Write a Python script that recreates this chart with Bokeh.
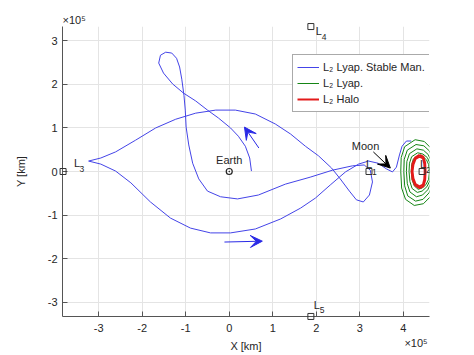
from bokeh.plotting import figure
from bokeh.models import (Range1d, FixedTicker, Label, Arrow, VeeHead, Legend,
                          LegendItem, ColumnDataSource, LinearAxis)
from bokeh.embed import file_html
from bokeh.resources import INLINE
from bokeh.core.properties import value

FONT = "Liberation Sans"

# ---------------- data (units of 1e5 km) ----------------
x_ticks = [-3, -2, -1, 0, 1, 2, 3, 4]
y_ticks = [-3, -2, -1, 0, 1, 2, 3]

manifold_x = [0.51, 0.47, 0.37, 0.21, 0.03, -0.25, -0.50, -0.77, -1.05, -1.30, -1.51, -1.62,
              -1.58, -1.46, -1.32, -1.21, -1.14, -1.09, -1.04, -1.01, -0.99, -0.93, -0.84,
              -0.70, -0.50, -0.20, 0.19, 0.67, 1.29, 1.86, 2.37, 2.83, 3.10, 3.24, 3.29, 3.22,
              3.08, 2.92, 2.76, 2.55, 2.35, 2.05, 1.75, 1.41, 1.06, 0.60, 0.14, -0.31, -0.77,
              -1.23, -1.69, -2.15, -2.61, -2.95, -3.23, -2.95, -2.61, -2.26, -1.81, -1.35,
              -0.89, -0.43, 0.03, 0.60, 1.18, 1.64, 1.98, 2.32, 2.67, 2.97, 3.20, 3.42, 3.61,
              3.75, 3.84, 3.91, 3.97, 4.07, 4.18]
manifold_y = [0.01, 0.31, 0.58, 0.81, 1.00, 1.23, 1.41, 1.62, 1.80, 2.01, 2.26, 2.49,
              2.67, 2.74, 2.72, 2.60, 2.40, 2.12, 1.75, 1.41, 1.02, 0.61, 0.19,
              -0.17, -0.45, -0.58, -0.63, -0.54, -0.29, -0.13, 0.03, 0.13, 0.15, 0.03, -0.24, -0.54,
              -0.70, -0.65, -0.45, -0.17, 0.08, 0.36, 0.58, 0.86, 1.09, 1.32, 1.41, 1.41, 1.34,
              1.20, 1.00, 0.72, 0.45, 0.31, 0.24, 0.17, 0.01, -0.26, -0.70, -1.07,
              -1.30, -1.41, -1.41, -1.32, -1.09, -0.84, -0.61, -0.31, -0.01, 0.17, 0.24, 0.19, 0.06,
              -0.01, 0.10, 0.38, 0.58, 0.70, 0.70]

lyap1_x = [4.27, 4.48, 4.62, 4.70, 4.72, 4.70, 4.62, 4.46, 4.25, 4.05, 3.96, 3.94, 3.95, 4.03, 4.27]
lyap1_y = [0.73, 0.69, 0.55, 0.32, 0.00, -0.34, -0.58, -0.74, -0.78, -0.64, -0.38, 0.00, 0.32, 0.57, 0.73]
lyap2_x = [4.29, 4.47, 4.60, 4.67, 4.69, 4.67, 4.59, 4.45, 4.28, 4.10, 4.03, 4.01, 4.02, 4.09, 4.29]
lyap2_y = [0.62, 0.59, 0.47, 0.28, 0.00, -0.30, -0.49, -0.64, -0.68, -0.56, -0.33, 0.00, 0.28, 0.49, 0.62]
lyap3_x = [4.31, 4.46, 4.57, 4.64, 4.66, 4.64, 4.56, 4.44, 4.30, 4.15, 4.09, 4.07, 4.08, 4.14, 4.31]
lyap3_y = [0.52, 0.49, 0.39, 0.23, 0.00, -0.25, -0.42, -0.54, -0.58, -0.47, -0.28, 0.00, 0.23, 0.41, 0.52]
lyap4_x = [4.33, 4.45, 4.55, 4.61, 4.63, 4.61, 4.54, 4.43, 4.32, 4.20, 4.15, 4.13, 4.14, 4.19, 4.33]
lyap4_y = [0.43, 0.40, 0.32, 0.19, 0.00, -0.21, -0.35, -0.45, -0.48, -0.39, -0.23, 0.00, 0.19, 0.34, 0.43]
lyap5_x = [4.35, 4.45, 4.53, 4.58, 4.60, 4.58, 4.52, 4.43, 4.34, 4.25, 4.20, 4.18, 4.19, 4.23, 4.35]
lyap5_y = [0.36, 0.34, 0.27, 0.16, 0.00, -0.18, -0.30, -0.38, -0.41, -0.33, -0.19, 0.00, 0.16, 0.29, 0.36]

halo1_x = [4.37, 4.46, 4.50, 4.51, 4.50, 4.46, 4.37, 4.27, 4.21, 4.19, 4.21, 4.27, 4.37]
halo1_y = [0.38, 0.34, 0.20, 0.00, -0.20, -0.34, -0.38, -0.32, -0.18, 0.00, 0.18, 0.32, 0.38]
halo2_x = [4.37, 4.45, 4.48, 4.49, 4.48, 4.45, 4.37, 4.28, 4.23, 4.21, 4.23, 4.28, 4.37]
halo2_y = [0.34, 0.30, 0.18, 0.00, -0.18, -0.30, -0.34, -0.29, -0.16, 0.00, 0.16, 0.29, 0.34]

lpoint_names = ["1", "2", "3", "4", "5"]
lpoint_x = [3.21, 4.43, -3.817, 1.875, 1.875]
lpoint_y = [0.0, 0.0, 0.0, 3.329, -3.329]

earth_x = [0.0]
earth_y = [0.0]

# arrows: (x_start, y_start, x_end, y_end)
arrow_blue_1 = [0.68, 0.54, 0.35, 1.02]
arrow_blue_2 = [-0.11, -1.62, 0.76, -1.60]
arrow_moon = [3.31, 0.45, 3.70, 0.08]
moon_label_xy = [3.13, 0.585]

legend_labels = ["L\u2082 Lyap. Stable Man.", "L\u2082 Lyap.", "L\u2082 Halo"]
scale_text = "\u00d710\u2075"
scale_tick_x = 4.29   # x position of the bottom-right exponent text

# ---------------- styles ----------------
BLUE = "#4444e8"
GREEN = "#158515"
RED = "#e31a1a"
AX = "#555555"
TXT = "#262626"

p = figure(frame_width=367, frame_height=290,
           x_range=Range1d(-3.83, 4.60), y_range=Range1d(-3.33, 3.33),
           output_backend="svg", toolbar_location=None,
           min_border_left=62, min_border_right=45, min_border_top=26, min_border_bottom=38,
           background_fill_color="white", border_fill_color="white")
p.outline_line_color = None

# exponent label top-left (as title)
p.title.text = scale_text
p.title.align = "left"
p.title.text_font = FONT
p.title.text_font_size = "11px"
p.title.text_font_style = "normal"
p.title.text_color = TXT
p.title.standoff = 1

p.xaxis.ticker = FixedTicker(ticks=x_ticks)
p.yaxis.ticker = FixedTicker(ticks=y_ticks)
p.xaxis.major_label_overrides = {t: str(t) for t in x_ticks}
p.yaxis.major_label_overrides = {t: str(t) for t in y_ticks}
for ax in (p.xaxis, p.yaxis):
    ax.axis_line_color = AX
    ax.major_tick_line_color = AX
    ax.major_tick_in = 5
    ax.major_tick_out = 0
    ax.minor_tick_line_color = None
    ax.major_label_text_font = FONT
    ax.major_label_text_font_size = "11px"
    ax.major_label_text_color = TXT
    ax.axis_label_text_font = FONT
    ax.axis_label_text_font_size = "11px"
    ax.axis_label_text_font_style = "normal"
    ax.axis_label_text_color = TXT
p.xaxis.axis_label = "X [km]"
p.yaxis.axis_label = "Y [km]"
p.xaxis.major_label_standoff = 7
p.xaxis.axis_label_standoff = 5
p.yaxis.major_label_standoff = 5
p.yaxis.axis_label_standoff = 18

# exponent label bottom-right: a second, bare x axis whose single tick label is pulled up
ax2 = LinearAxis(ticker=FixedTicker(ticks=[scale_tick_x]),
                 major_label_overrides={scale_tick_x: scale_text},
                 axis_line_color=None, major_tick_line_color=None,
                 minor_tick_line_color=None, major_tick_in=0, major_tick_out=0,
                 major_label_standoff=-18, major_label_text_font=FONT,
                 major_label_text_font_size="11px", major_label_text_color=TXT)
p.add_layout(ax2, "below")

p.grid.grid_line_color = "#e4e4e4"
p.grid.grid_line_width = 1

r_man = p.line(manifold_x, manifold_y, line_color=BLUE, line_width=1)
lyaps = []
for lx, ly in [(lyap1_x, lyap1_y), (lyap2_x, lyap2_y), (lyap3_x, lyap3_y),
               (lyap4_x, lyap4_y), (lyap5_x, lyap5_y)]:
    lyaps.append(p.line(lx, ly, line_color=GREEN, line_width=1))
halos = []
for hx, hy in [(halo1_x, halo1_y), (halo2_x, halo2_y)]:
    halos.append(p.line(hx, hy, line_color=RED, line_width=2))

# Lagrange points & Earth
src = ColumnDataSource(dict(x=lpoint_x, y=lpoint_y, sub=lpoint_names,
                            L=["L"] * len(lpoint_names)))
p.scatter("x", "y", source=src, marker="square", size=6, fill_color=None,
          line_color="#333333", line_width=1, level="overlay")
p.scatter(earth_x, earth_y, marker="circle_dot", size=6, fill_color=None,
          line_color="#222222", line_width=1.2)

# label offsets (screen px) per Lagrange point
src.data["ldx"] = [-3, -2, 11, 5, 3]
src.data["ldy"] = [-8, -8, -9, 4.5, -11.5]
src.data["sdx"] = [3, 4, 16.5, 11, 9]
src.data["sdy"] = [0, -1.5, -3, 10, -6.5]
p.text("x", "y", text="L", source=src, x_offset="ldx", y_offset="ldy",
       text_font=value(FONT), text_font_size="11px", text_color=TXT,
       text_align="left", text_baseline="middle")
p.text("x", "y", text="sub", source=src, x_offset="sdx", y_offset="sdy",
       text_font=value(FONT), text_font_size="8.5px", text_color=TXT,
       text_align="left", text_baseline="middle")
p.text(earth_x, earth_y, text=["Earth"], y_offset=-11.5,
       text_font=value(FONT), text_font_size="11px", text_color=TXT,
       text_align="center", text_baseline="middle")

p.add_layout(Label(x=moon_label_xy[0], y=moon_label_xy[1], text="Moon",
                   text_font=FONT, text_font_size="11px", text_color=TXT,
                   text_align="center", text_baseline="middle"))

for a, col in [(arrow_blue_1, "#2a2ae6"), (arrow_blue_2, "#2a2ae6"), (arrow_moon, "black")]:
    p.add_layout(Arrow(end=VeeHead(size=12, fill_color=col, line_color=col, line_width=1),
                       x_start=a[0], y_start=a[1], x_end=a[2], y_end=a[3],
                       line_color=col, line_width=1))

legend = Legend(items=[LegendItem(label=legend_labels[0], renderers=[r_man]),
                       LegendItem(label=legend_labels[1], renderers=[lyaps[0]]),
                       LegendItem(label=legend_labels[2], renderers=[halos[0]])],
                location=(230, 203.9), padding=4, spacing=0, glyph_width=22,
                glyph_height=16, label_height=16, label_standoff=4, margin=0,
                label_text_font=FONT, label_text_font_size="11px", label_text_color=TXT,
                border_line_color=AX, border_line_width=1, background_fill_alpha=1)
p.add_layout(legend)

open("out.html", "w").write(file_html(p, INLINE))
